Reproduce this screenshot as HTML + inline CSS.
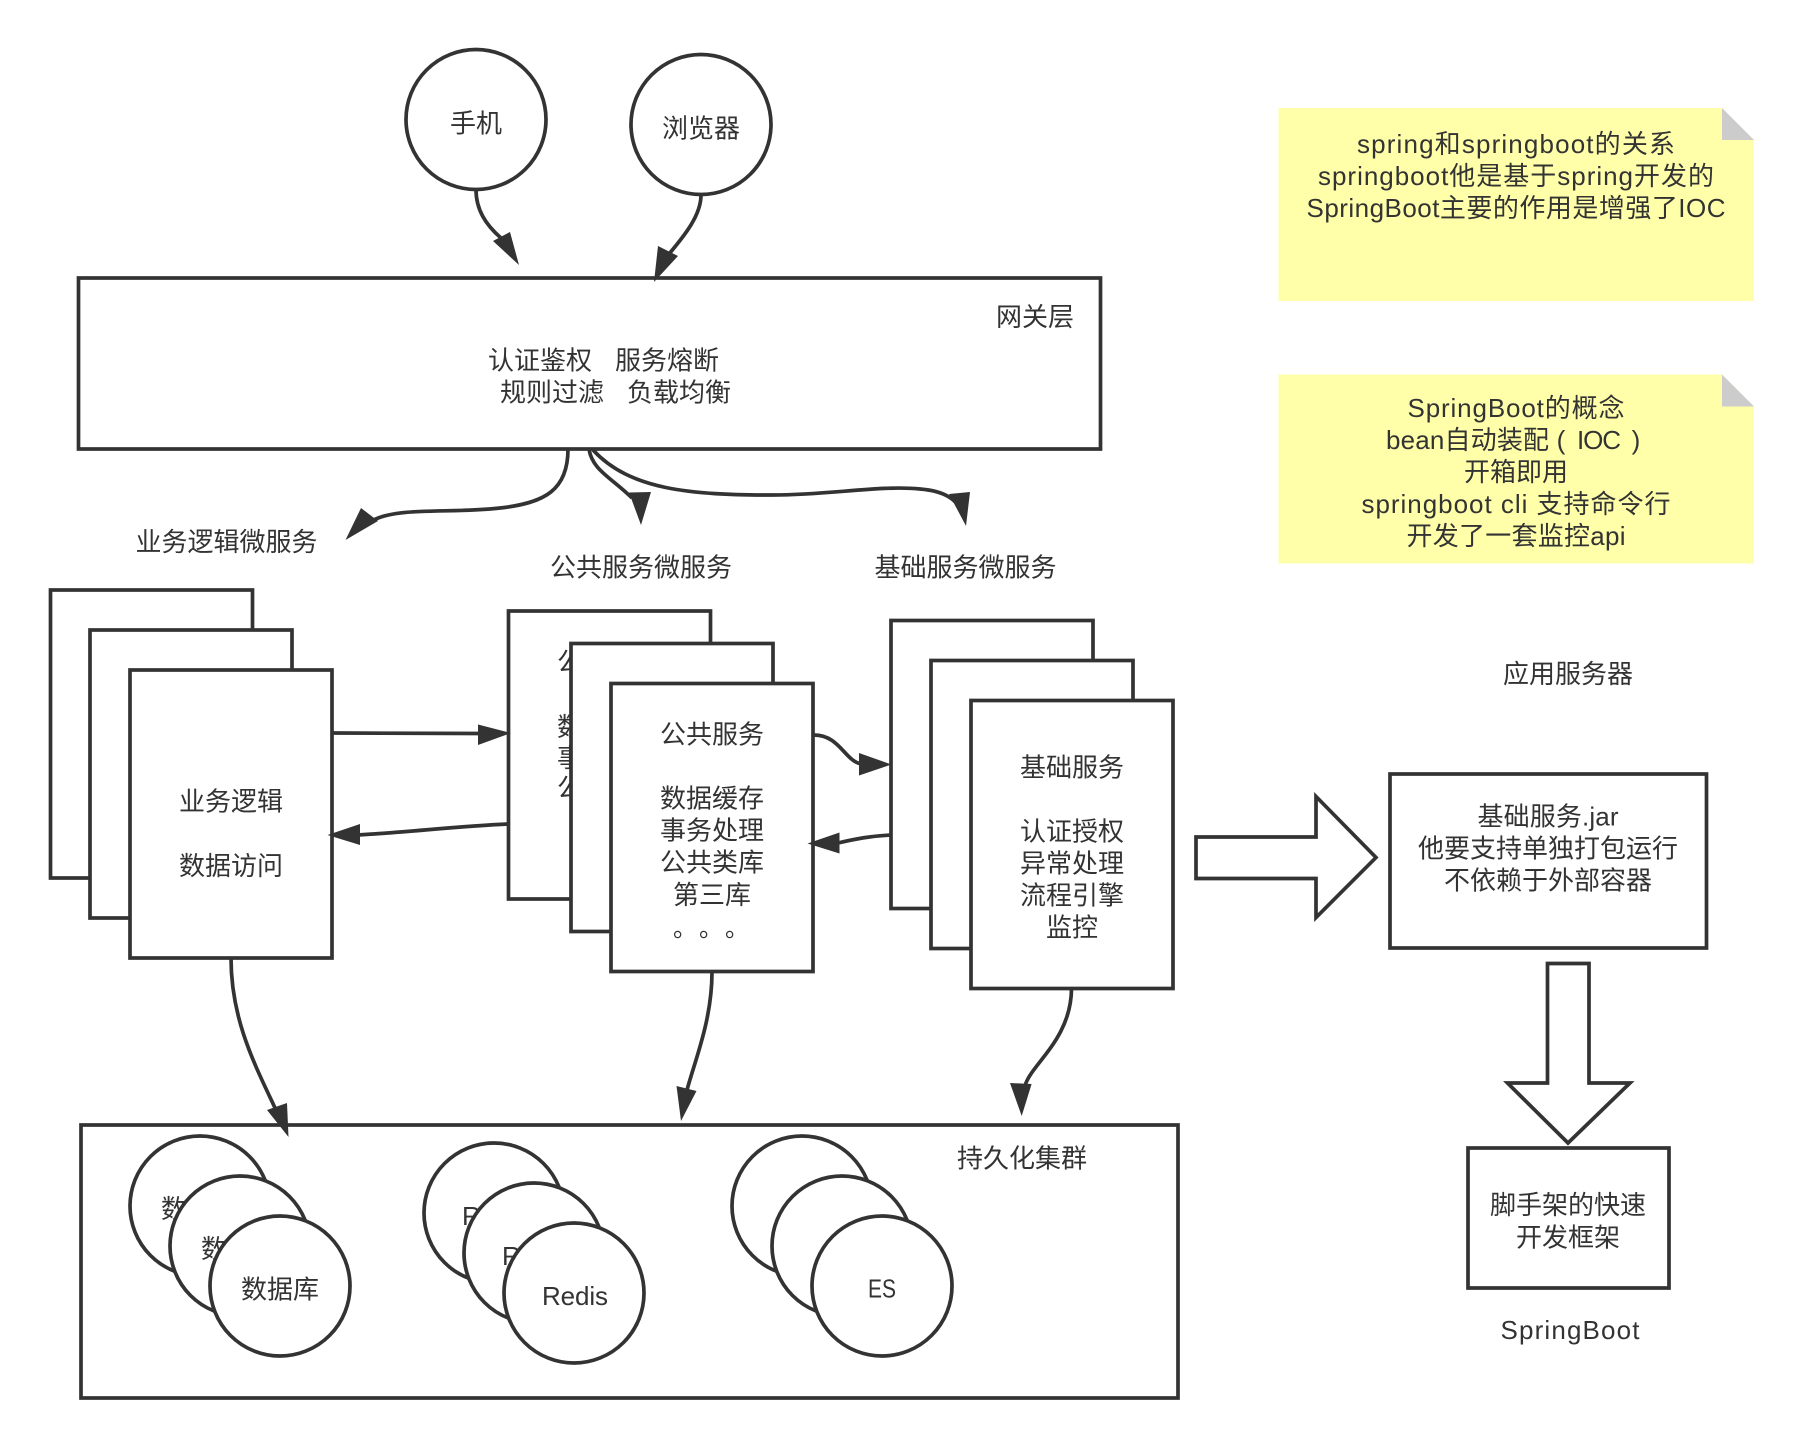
<!DOCTYPE html>
<html lang="zh"><head><meta charset="utf-8"><title>SpringBoot</title>
<style>
html,body{margin:0;padding:0;background:#fff}
svg{display:block}
text{font-family:"Liberation Sans","Noto Sans CJK SC",sans-serif;font-size:26px;fill:#333}
.m{text-anchor:middle}
.s{fill:#fff;stroke:#333;stroke-width:3.7}
.l{fill:none;stroke:#333;stroke-width:3.7}
.a{fill:#333;stroke:none}
</style></head><body>
<svg xmlns="http://www.w3.org/2000/svg" width="1802" height="1446" viewBox="0 0 1802 1446">
<rect width="1802" height="1446" fill="#fff"/>

<circle class="s" cx="476" cy="119.5" r="70"/><text class="m" x="476" y="132.5">手机</text>
<circle class="s" cx="701" cy="124.5" r="70"/><text class="m" x="701" y="137.5">浏览器</text>

<rect class="s" x="78.5" y="278" width="1022" height="171"/>
<text class="m" x="1035" y="326">网关层</text>
<text x="488" y="369.5">认证鉴权</text><text x="615" y="369.5">服务熔断</text>
<text x="500" y="401.5">规则过滤</text><text x="627" y="401.5">负载均衡</text>

<text class="m" x="226.5" y="551">业务逻辑微服务</text>
<text class="m" x="641" y="576.5">公共服务微服务</text>
<text class="m" x="965.5" y="576.5">基础服务微服务</text>

<!-- left stack -->
<rect class="s" x="50.5" y="590" width="202" height="288"/>
<rect class="s" x="90" y="630" width="202" height="288"/>
<rect class="s" x="130" y="670" width="202" height="288"/>
<text class="m" x="231" y="810.5">业务逻辑</text>
<text class="m" x="231" y="875">数据访问</text>

<!-- middle stack -->
<rect class="s" x="508.5" y="611" width="202" height="288"/>
<text class="m" x="609" y="671">公共服务</text>
<text class="m" x="609" y="736">数据缓存</text>
<text class="m" x="609" y="767">事务处理</text>
<text class="m" x="609" y="797">公共类库</text>
<rect class="s" x="571" y="643.5" width="202" height="288"/>
<rect class="s" x="611" y="683.5" width="202" height="288"/>
<text class="m" x="712" y="743.5">公共服务</text>
<text class="m" x="712" y="807.5">数据缓存</text>
<text class="m" x="712" y="839.5">事务处理</text>
<text class="m" x="712" y="871.5">公共类库</text>
<text class="m" x="712" y="904">第三库</text>
<text x="673" y="936.5" style="font-size:24px">。</text><text x="699" y="936.5" style="font-size:24px">。</text><text x="725" y="936.5" style="font-size:24px">。</text>

<!-- right stack -->
<rect class="s" x="891" y="620.5" width="202" height="288"/>
<rect class="s" x="931" y="660.5" width="202" height="288"/>
<rect class="s" x="971" y="700.5" width="202" height="288"/>
<text class="m" x="1072" y="776.5">基础服务</text>
<text class="m" x="1072" y="840.5">认证授权</text>
<text class="m" x="1072" y="872.5">异常处理</text>
<text class="m" x="1072" y="904.5">流程引擎</text>
<text class="m" x="1072" y="936.5">监控</text>

<!-- persistence -->
<rect class="s" x="81" y="1125" width="1097" height="273"/>
<text class="m" x="1022" y="1167.5">持久化集群</text>
<circle class="s" cx="200" cy="1206" r="70"/><text class="m" x="200" y="1218">数据库</text>
<circle class="s" cx="240" cy="1246" r="70"/><text class="m" x="240" y="1258">数据库</text>
<circle class="s" cx="280" cy="1286" r="70"/><text class="m" x="280" y="1298.5">数据库</text>
<circle class="s" cx="494" cy="1213" r="70"/><text class="m" x="495" y="1225" textLength="66">Redis</text>
<circle class="s" cx="534" cy="1253" r="70"/><text class="m" x="535" y="1265" textLength="66">Redis</text>
<circle class="s" cx="574" cy="1293" r="70"/><text class="m" x="575" y="1305" textLength="66">Redis</text>
<circle class="s" cx="802" cy="1206" r="70"/>
<circle class="s" cx="842" cy="1246" r="70"/>
<circle class="s" cx="882" cy="1286" r="70"/><text class="m" x="882" y="1297.5" textLength="28" lengthAdjust="spacingAndGlyphs">ES</text>

<!-- connectors -->
<path class="l" d="M476 189.5C476 210 486 225 501 238"/><path class="a" d="M519 265L493 241L510 232Z"/>
<path class="l" d="M701 195C701 215 685 235 669 254"/><path class="a" d="M654 282L658 246L678 256Z"/>
<path class="l" d="M568 449C568 490 545 503 500 508C450 514 395 506 370 522"/><path class="a" d="M345.5 540L361 508L378 521Z"/>
<path class="l" d="M589 449C592 470 612 478 632 498"/><path class="a" d="M641 525L629 492.5L651 492Z"/>
<path class="l" d="M593 450C630 490 690 495 773 495C830 495 880 485 920 489C945 491 957 500 960 510"/><path class="a" d="M966 526L949 494L970 492Z"/>
<path class="l" d="M332 733L480 733.5"/><path class="a" d="M511 733L478 724.5L478 745Z"/>
<path class="l" d="M508 824C460 826 410 832 358 835"/><path class="a" d="M327.5 835L360 824L360 845Z"/>
<path class="l" d="M814 735C840 735 845 762 862 764"/><path class="a" d="M891.5 764.5L859 753L859 775.5Z"/>
<path class="l" d="M891 835C870 836 855 839 838 843"/><path class="a" d="M807.5 843.5L839.5 832.5L839.5 853.5Z"/>
<path class="l" d="M231 958C231 1020 255 1065 276 1110"/><path class="a" d="M288.5 1137L267 1110L287 1103Z"/>
<path class="l" d="M712 972C712 1020 695 1060 687 1090"/><path class="a" d="M681 1121L676.5 1086L696.5 1091Z"/>
<path class="l" d="M1071.5 989C1071 1040 1030 1065 1025 1086"/><path class="a" d="M1021.7 1116L1010 1083L1031.6 1084Z"/>

<!-- notes -->
<path fill="#ffa" d="M1278.5 108H1722L1754 140V301H1278.5Z"/><path fill="#ccc" d="M1722 108L1754 140H1722Z"/>
<path fill="#ffa" d="M1278.5 374.5H1722L1754 406.5V563.5H1278.5Z"/><path fill="#ccc" d="M1722 374.5L1754 406.5H1722Z"/>
<text class="m" x="1516" y="153" textLength="318">spring和springboot的关系</text>
<text class="m" x="1516" y="185" textLength="396">springboot他是基于spring开发的</text>
<text class="m" x="1516" y="217" textLength="419">SpringBoot主要的作用是增强了IOC</text>
<text class="m" x="1516" y="417" textLength="217">SpringBoot的概念</text>
<text x="1386" y="449" textLength="163">bean自动装配</text><text class="m" x="1561" y="449">(</text><text x="1577" y="449" textLength="44">IOC</text><text class="m" x="1636" y="449">)</text>
<text class="m" x="1516" y="481">开箱即用</text>
<text class="m" x="1516" y="513" textLength="309">springboot cli 支持命令行</text>
<text class="m" x="1516" y="545" textLength="219">开发了一套监控api</text>

<!-- right column -->
<text class="m" x="1568" y="683">应用服务器</text>
<path class="s" d="M1196 837V878.5H1316V917.5L1376 857.5L1316 796.5V837Z"/>
<rect class="s" x="1390" y="774" width="316.5" height="174"/>
<text class="m" x="1548" y="825.5" textLength="141">基础服务.jar</text>
<text class="m" x="1548" y="857.5">他要支持单独打包运行</text>
<text class="m" x="1548" y="889.5">不依赖于外部容器</text>
<path class="s" d="M1547.5 963.5H1589V1083H1630L1568 1143L1507.5 1083H1547.5Z"/>
<rect class="s" x="1468" y="1148" width="201" height="140"/>
<text class="m" x="1568" y="1214">脚手架的快速</text>
<text class="m" x="1568" y="1246.5">开发框架</text>
<text class="m" x="1570" y="1339" textLength="139">SpringBoot</text>
</svg>
</body></html>
